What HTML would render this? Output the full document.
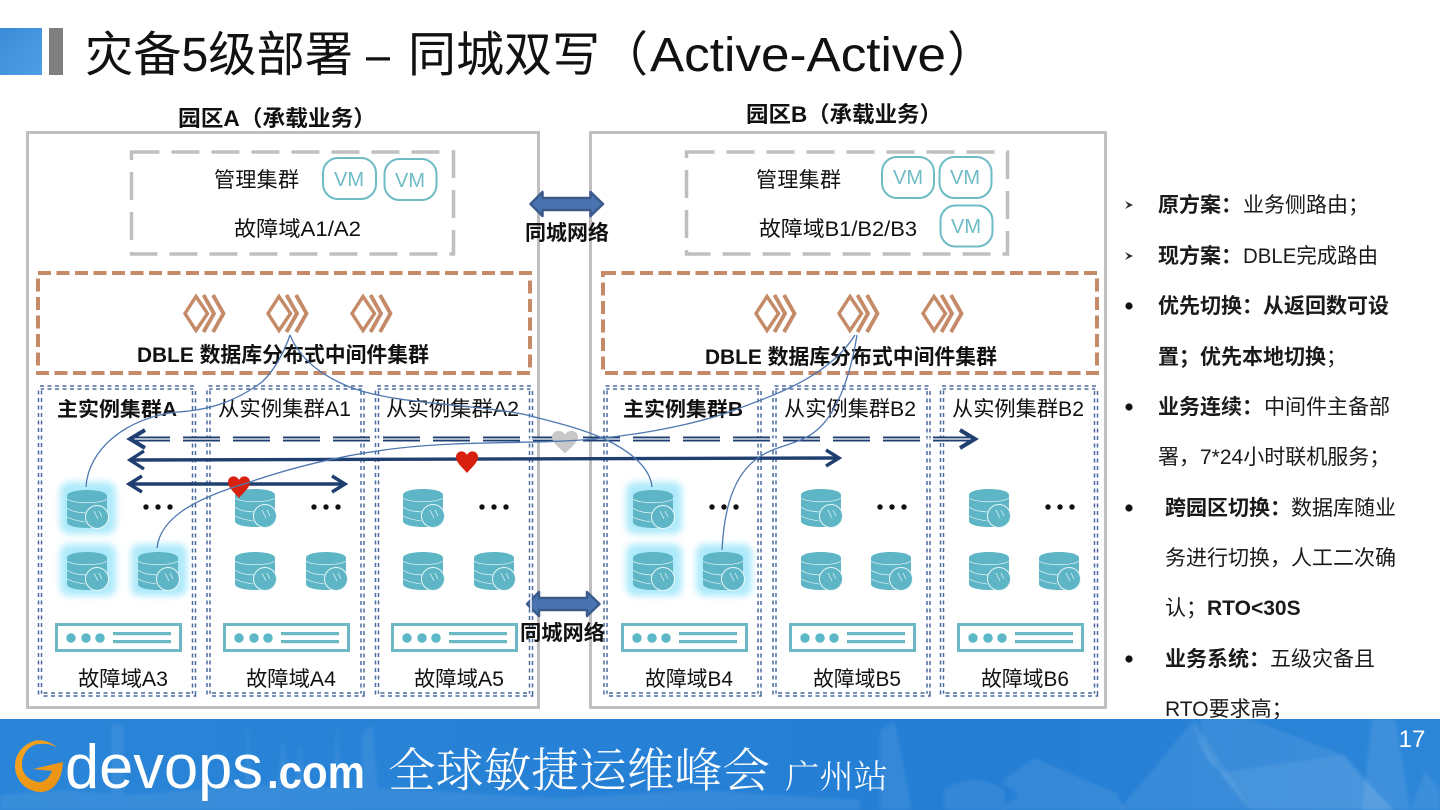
<!DOCTYPE html>
<html lang="zh"><head><meta charset="utf-8"><title>灾备5级部署</title>
<style>
html,body{margin:0;padding:0;background:#fff;width:1440px;height:810px;overflow:hidden}
svg{display:block}
text{font-family:"Liberation Sans","Noto Sans CJK SC",sans-serif;fill:#111}
.b{font-weight:700}
.r{font-size:21px;fill:#1a1a1a}
</style></head><body>
<svg width="1440" height="810" viewBox="0 0 1440 810" xmlns="http://www.w3.org/2000/svg">
<defs>
<linearGradient id="sq" x1="0" y1="0" x2="1" y2="1"><stop offset="0" stop-color="#3a8ad6"/><stop offset="1" stop-color="#4f9fe6"/></linearGradient>
<linearGradient id="foot" x1="0" y1="0" x2="1" y2="0"><stop offset="0" stop-color="#2a85d8"/><stop offset=".7" stop-color="#247ed4"/><stop offset="1" stop-color="#2c86d8"/></linearGradient>
<linearGradient id="orng" x1="0" y1="0" x2="1" y2="1"><stop offset="0" stop-color="#f5a623"/><stop offset="1" stop-color="#ea8f10"/></linearGradient>
<filter id="gl" x="-40%" y="-40%" width="180%" height="180%"><feGaussianBlur stdDeviation="3.500"/></filter>
<filter id="sf" x="-10%" y="-10%" width="120%" height="120%"><feGaussianBlur stdDeviation="1.500"/></filter>
<g id="db">
<path d="M0 8C0 0 40 0 40 8V34C40 39 30 40 20 40C10 40 0 38 0 34Z" fill="#5db5c5"/>
<path d="M0 11C6 16 34 16 40 11M0 20C6 25 18 25 24 25M0 29C5 32 12 33 18 34" fill="none" stroke="#eaf7f9" stroke-width=".7"/>
<circle cx="30" cy="29" r="11.500" fill="#5db5c5" stroke="#eaf7f9" stroke-width="1"/>
<path d="M27 23L31 31M32 23L35 29" stroke="#eaf7f9" stroke-width=".7" fill="none"/>
</g>
<rect id="glow" x="-7" y="-6" width="56" height="52" rx="9" fill="#aeeafb" filter="url(#gl)"/>
<g id="dots"><circle cx="-12" cy="0" r="2.700" fill="#111"/><circle cx="0" cy="0" r="2.700" fill="#111"/><circle cx="12" cy="0" r="2.700" fill="#111"/></g>
<g id="srv"><rect x="1.500" y="1.500" width="124" height="26" fill="#fff" stroke="#6cb8c4" stroke-width="3"/>
<circle cx="16" cy="15" r="4.700" fill="#5cb7c6"/><circle cx="31" cy="15" r="4.700" fill="#5cb7c6"/><circle cx="45" cy="15" r="4.700" fill="#5cb7c6"/>
<rect x="58" y="9" width="58" height="3.200" fill="#6cb8c4"/><rect x="58" y="17" width="58" height="3.200" fill="#6cb8c4"/></g>
<g id="mw" fill="none" stroke="#c58a68"><polygon points="2,19.500 13,2.500 24.500,19.500 13,36.500" stroke-width="3.400"/><polyline points="20.500,1 31,19.500 20.500,38" stroke-width="3.800"/><polyline points="30,1 40.500,19.500 30,38" stroke-width="3.800"/></g>
<g id="cl"><rect x="0" y="0" width="154" height="307" fill="none" stroke="#4a6ca0" stroke-width="4.500" stroke-dasharray="4 3.500"/><rect x="0" y="0" width="154" height="307" fill="none" stroke="#fff" stroke-width="1.500"/></g>
<path id="heart" d="M0 11C-3 7-11 1-11-5C-11-11-3-13 0-7C3-13 11-11 11-5C11 1 3 7 0 11Z"/>
<path id="big" d="M1 13L13 1V7H61V1L73.500 13L61 25V19H13V25Z" fill="#4a74b0" stroke="#3a5a8c" stroke-width="2.500" stroke-linejoin="round"/>
</defs>
<rect width="1440" height="810" fill="#fff"/>
<rect x="0" y="28" width="42" height="47" fill="url(#sq)"/><rect x="49" y="28" width="14" height="47" fill="#7f7f7f"/>
<text x="85" y="71" font-size="48" textLength="268" lengthAdjust="spacingAndGlyphs">灾备5级部署</text>
<text x="366" y="71" font-size="48" textLength="24" lengthAdjust="spacingAndGlyphs">–</text>
<text x="408" y="71" font-size="48">同城双写</text>
<text x="600" y="71" font-size="48">（</text>
<text x="650" y="71" font-size="48" textLength="296" lengthAdjust="spacingAndGlyphs">Active-Active</text>
<text x="947" y="71" font-size="48">）</text>

<text class="b" x="178" y="126" font-size="22" textLength="198" lengthAdjust="spacingAndGlyphs">园区A（承载业务）</text>
<text class="b" x="746" y="122" font-size="22" textLength="196" lengthAdjust="spacingAndGlyphs">园区B（承载业务）</text>
<rect x="27.500" y="132.500" width="511" height="575" fill="none" stroke="#bfbfbf" stroke-width="3"/>
<rect x="590.500" y="132.500" width="515" height="575" fill="none" stroke="#bfbfbf" stroke-width="3"/>

<rect x="131.500" y="152" width="322" height="102" fill="none" stroke="#bfbfbf" stroke-width="3.500" stroke-dasharray="28 12"/>
<rect x="686.500" y="152" width="321" height="102" fill="none" stroke="#bfbfbf" stroke-width="3.500" stroke-dasharray="28 12"/>
<text x="214" y="187" font-size="21" textLength="85">管理集群</text>
<text x="234" y="236" font-size="21" textLength="127" lengthAdjust="spacingAndGlyphs">故障域A1/A2</text>
<text x="756" y="187" font-size="21" textLength="85">管理集群</text>
<text x="759" y="236" font-size="21" textLength="158" lengthAdjust="spacingAndGlyphs">故障域B1/B2/B3</text>
<g fill="#fff" stroke="#6dbcc5" stroke-width="2">
<rect x="323" y="158" width="53" height="41" rx="15"/><rect x="384.500" y="159" width="52" height="41" rx="15"/>
<rect x="882" y="157" width="52" height="41" rx="15"/><rect x="939.500" y="157" width="52" height="41" rx="15"/><rect x="940.500" y="205.500" width="52" height="41" rx="15"/>
</g>
<g style="font-size:20px">
<text x="349" y="186" text-anchor="middle" textLength="30" lengthAdjust="spacingAndGlyphs" style="fill:#6dbcc5">VM</text><text x="410" y="187" text-anchor="middle" textLength="30" lengthAdjust="spacingAndGlyphs" style="fill:#6dbcc5">VM</text>
<text x="908" y="184" text-anchor="middle" textLength="30" lengthAdjust="spacingAndGlyphs" style="fill:#6dbcc5">VM</text><text x="965" y="184" text-anchor="middle" textLength="30" lengthAdjust="spacingAndGlyphs" style="fill:#6dbcc5">VM</text><text x="966" y="233" text-anchor="middle" textLength="30" lengthAdjust="spacingAndGlyphs" style="fill:#6dbcc5">VM</text>
</g>

<use href="#big" x="529.500" y="191"/><use href="#big" x="526" y="591"/>

<rect x="38" y="273" width="492" height="100" fill="none" stroke="#c58a68" stroke-width="4" stroke-dasharray="13 5.500"/>
<rect x="603" y="273" width="494" height="100" fill="none" stroke="#c58a68" stroke-width="4" stroke-dasharray="13 5.500"/>
<use href="#mw" x="183" y="294"/><use href="#mw" x="266" y="294"/><use href="#mw" x="350" y="294"/>
<use href="#mw" x="754" y="294"/><use href="#mw" x="837" y="294"/><use href="#mw" x="921" y="294"/>
<text class="b" x="137" y="362" font-size="21" textLength="292" lengthAdjust="spacingAndGlyphs">DBLE 数据库分布式中间件集群</text>
<text class="b" x="705" y="364" font-size="21" textLength="292" lengthAdjust="spacingAndGlyphs">DBLE 数据库分布式中间件集群</text>

<use href="#cl" x="40" y="387.500"/><use href="#cl" x="208.500" y="387.500"/><use href="#cl" x="377" y="387.500"/>
<use href="#cl" x="605.500" y="387.500"/><use href="#cl" x="774.500" y="387.500"/><use href="#cl" x="942" y="387.500"/>

<text class="b" x="57" y="416" font-size="20" textLength="120" lengthAdjust="spacingAndGlyphs">主实例集群A</text>
<text x="218" y="416" font-size="21" textLength="133" lengthAdjust="spacingAndGlyphs">从实例集群A1</text>
<text x="386" y="416" font-size="21" textLength="133" lengthAdjust="spacingAndGlyphs">从实例集群A2</text>
<text class="b" x="623" y="416" font-size="20" textLength="120" lengthAdjust="spacingAndGlyphs">主实例集群B</text>
<text x="784" y="416" font-size="21" textLength="132" lengthAdjust="spacingAndGlyphs">从实例集群B2</text>
<text x="952" y="416" font-size="21" textLength="132" lengthAdjust="spacingAndGlyphs">从实例集群B2</text>

<use href="#glow" x="67" y="488"/><use href="#glow" x="67" y="550"/><use href="#glow" x="138" y="550"/>
<use href="#glow" x="633" y="488"/><use href="#glow" x="633" y="550"/><use href="#glow" x="703" y="550"/>
<g>
<use href="#db" x="67" y="488"/><use href="#db" x="67" y="550"/><use href="#db" x="138" y="550"/>
<use href="#db" x="235" y="487"/><use href="#db" x="235" y="550"/><use href="#db" x="306" y="550"/>
<use href="#db" x="403" y="487"/><use href="#db" x="403" y="550"/><use href="#db" x="474" y="550"/>
<use href="#db" x="633" y="488"/><use href="#db" x="633" y="550"/><use href="#db" x="703" y="550"/>
<use href="#db" x="801" y="487"/><use href="#db" x="801" y="550"/><use href="#db" x="871" y="550"/>
<use href="#db" x="969" y="487"/><use href="#db" x="969" y="550"/><use href="#db" x="1039" y="550"/>
</g>
<use href="#dots" x="158" y="507"/><use href="#dots" x="326" y="507"/><use href="#dots" x="494" y="507"/>
<use href="#dots" x="724" y="507"/><use href="#dots" x="892" y="507"/><use href="#dots" x="1060" y="507"/>
<use href="#srv" x="55" y="623"/><use href="#srv" x="223" y="623"/><use href="#srv" x="391" y="623"/>
<use href="#srv" x="621" y="623"/><use href="#srv" x="789" y="623"/><use href="#srv" x="957" y="623"/>

<g font-size="21">
<text x="78" y="686" textLength="90" lengthAdjust="spacingAndGlyphs">故障域A3</text>
<text x="246" y="686" textLength="90" lengthAdjust="spacingAndGlyphs">故障域A4</text>
<text x="414" y="686" textLength="90" lengthAdjust="spacingAndGlyphs">故障域A5</text>
<text x="645" y="686" textLength="88" lengthAdjust="spacingAndGlyphs">故障域B4</text>
<text x="813" y="686" textLength="88" lengthAdjust="spacingAndGlyphs">故障域B5</text>
<text x="981" y="686" textLength="88" lengthAdjust="spacingAndGlyphs">故障域B6</text>
</g>

<g fill="none" stroke="#1f3f70">
<path d="M133 439H972" stroke-width="5" stroke-dasharray="37 13"/>
<path d="M126 439H972" stroke="#fff" stroke-width="1.300"/>
<path d="M145 430L130 439L145 448M960 430L975 439L960 448" stroke-width="4"/>
<path d="M131 460L838 458" stroke-width="3.400"/><path d="M144 451L130 460L144 469M826 450L839 458L826 466" stroke-width="3.400"/>
<path d="M130 484H344" stroke-width="3.400"/><path d="M142 476L129 484L142 492M332 476L345 484L332 492" stroke-width="3.400"/>
</g>
<use href="#heart" x="239" y="487" fill="#d8200f"/>
<use href="#heart" x="467" y="462" fill="#d8200f"/>
<use href="#heart" transform="translate(565 442) scale(1.180 1.050)" fill="#c8c8c8"/>

<g fill="none" stroke="#4f78b0" stroke-width="1.300">
<path d="M86 487C88 450 125 418 177 412C215 410 240 398 262 382C275 370 285 350 290 335"/>
<path d="M157 548C160 520 190 500 247 483C290 468 340 455 400 448C470 440 540 445 603 438C660 432 710 420 740 408C780 393 830 375 855 335"/>
<path d="M652 487C650 465 625 448 600 437C570 425 545 420 527 415C470 403 390 405 345 385C315 372 298 355 290 335"/>
<path d="M722 550C724 510 733 475 758 458C775 445 800 445 817 430C835 415 850 380 857 335"/>
</g>

<text class="b" x="525" y="240" font-size="21" textLength="84" lengthAdjust="spacingAndGlyphs">同城网络</text>
<text class="b" x="520" y="640" font-size="21" textLength="85" lengthAdjust="spacingAndGlyphs">同城网络</text>

<path d="M1125 201l8 4-8 4 3-4zM1125 252l8 4-8 4 3-4z" fill="#333"/>
<circle cx="1129" cy="306" r="3.600" fill="#111"/><circle cx="1129" cy="407" r="3.600" fill="#111"/><circle cx="1129" cy="508" r="3.600" fill="#111"/><circle cx="1129" cy="659" r="3.600" fill="#111"/>
<text class="r b" x="1158" y="212">原方案：</text><text class="r" x="1243" y="212">业务侧路由；</text>
<text class="r b" x="1158" y="263">现方案：</text><text class="r" x="1243" y="263" textLength="135" lengthAdjust="spacingAndGlyphs">DBLE完成路由</text>
<text class="r b" x="1158" y="313">优先切换：从返回数可设</text>
<text class="r b" x="1158" y="364">置；优先本地切换</text><text class="r" x="1326" y="364">；</text>
<text class="r b" x="1158" y="414">业务连续：</text><text class="r" x="1264" y="414">中间件主备部</text>
<text class="r" x="1158" y="464">署，7*24小时联机服务；</text>
<text class="r b" x="1165" y="515">跨园区切换：</text><text class="r" x="1291" y="515">数据库随业</text>
<text class="r" x="1165" y="565">务进行切换，人工二次确</text>
<text class="r" x="1165" y="615">认；</text><text class="r b" x="1207" y="615">RTO&lt;30S</text>
<text class="r b" x="1165" y="666">业务系统：</text><text class="r" x="1270" y="666">五级灾备且</text>
<text class="r" x="1165" y="716">RTO要求高；</text>

<rect x="0" y="719" width="1440" height="91" fill="url(#foot)"/>
<g fill="#fff" opacity=".07" filter="url(#sf)">
<path d="M112 810V725H123V810ZM244 810L248 722L252 810ZM275 810L283 738L292 810ZM293 810L300 745L307 810ZM332 810L337 722L342 810ZM362 810V735L372 725L380 810Z"/>
<path d="M0 810V795L60 790L130 795L250 785L420 790L560 798L700 790L860 800V810Z"/>
<path d="M880 810V730L895 722L912 810Z"/>
<path d="M944 810V790Q975 770 1005 790V810Z"/>
</g>
<g fill="#fff" filter="url(#sf)">
<path opacity=".08" d="M1001 782L1034 758L1116 793L1125 810H1000L1020 795Z"/>
<path opacity=".08" d="M1119 810L1194 720L1251 810Z"/>
<path opacity=".14" d="M1194 719C1198 745 1210 768 1223 772L1344 755C1360 775 1380 795 1394 810H1251C1230 785 1205 760 1194 719Z"/>
<path opacity=".08" d="M1200 719H1250L1344 755L1223 772C1210 765 1200 745 1200 719Z"/>
<path opacity=".09" d="M1362 810L1372 719H1395L1410 810Z"/>
<path opacity=".07" d="M1410 810L1425 770L1440 790V810Z"/>
</g>
<path d="M58 748C50 741 40 739 34 741C22 745 15 755 15 766C15 780 26 792 41 792C52 792 62 782 63 762L33 769L52 771C49 778 44 783 38 782C28 780 22 773 22 765C22 753 30 744 40 744C47 743 53 745 58 748Z" fill="url(#orng)"/>
<text x="65" y="788" font-size="62" textLength="198" lengthAdjust="spacingAndGlyphs" style="fill:#fff">devops</text>
<text x="267" y="788" font-size="46" font-weight="700" textLength="98" lengthAdjust="spacingAndGlyphs" style="fill:#fff">.com</text>
<text x="388" y="787" font-size="47" textLength="382" lengthAdjust="spacingAndGlyphs" style="font-family:'Noto Serif CJK SC',serif;fill:#fff;font-weight:300">全球敏捷运维峰会</text>
<text x="785" y="788" font-size="33" textLength="103" lengthAdjust="spacingAndGlyphs" style="font-family:'Noto Serif CJK SC',serif;fill:#fff;font-weight:300">广州站</text>
<text x="1412" y="747" font-size="24" text-anchor="middle" style="fill:#fff">17</text>
</svg>
</body></html>
